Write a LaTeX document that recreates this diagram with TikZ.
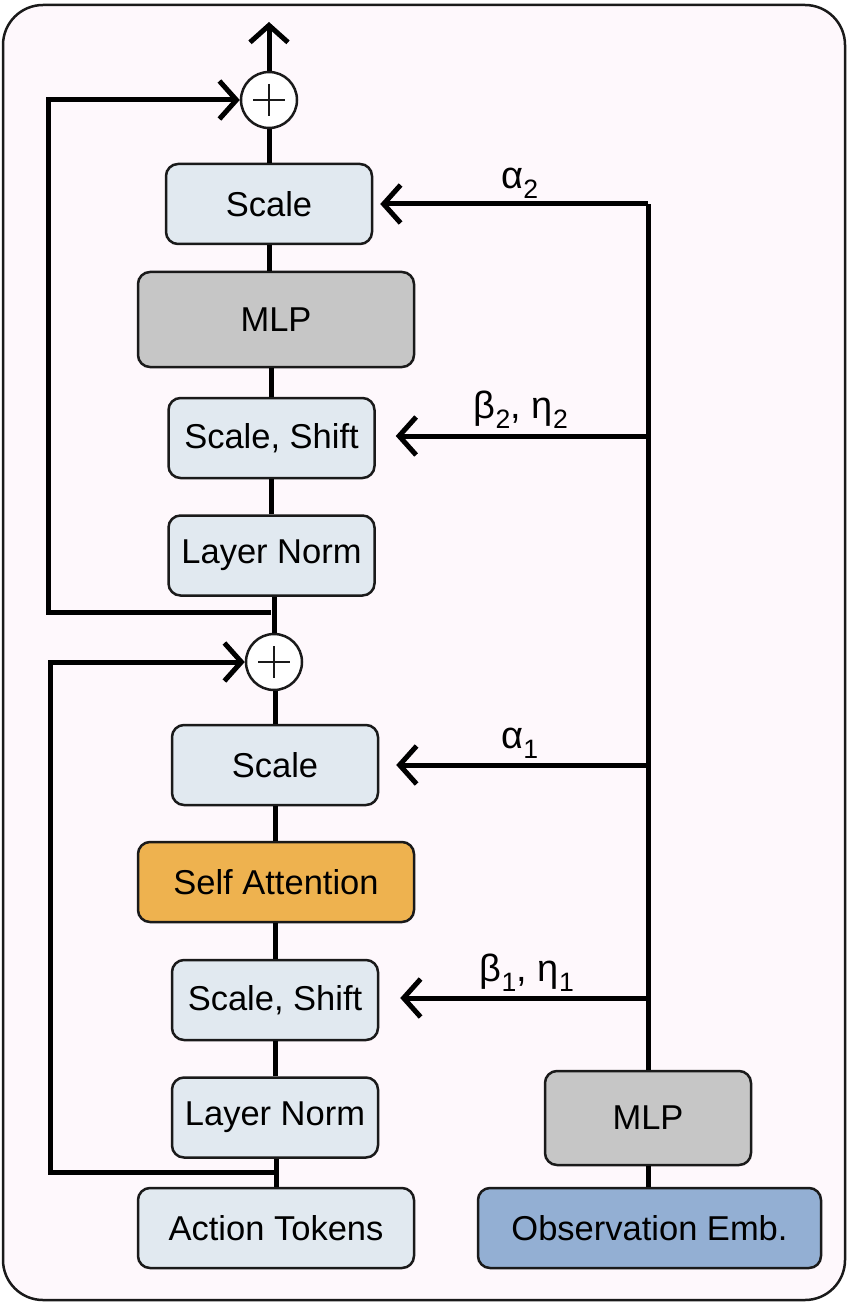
\documentclass[tikz,border=0pt]{standalone}
\usepackage{fontspec}
\setmainfont{Liberation Sans}
\usetikzlibrary{arrows.meta,calc}
\definecolor{bgpink}{HTML}{FEF8FC}
\definecolor{boxblue}{HTML}{E1E9F0}
\definecolor{boxgray}{HTML}{C6C6C6}
\definecolor{boxorange}{HTML}{EEB24F}
\definecolor{boxobs}{HTML}{93AFD3}
\definecolor{edge}{HTML}{1A1A1A}
\tikzset{
  blk/.style={draw=edge, line width=2.5pt, rounded corners=12pt, fill=boxblue,
    minimum width=206pt, minimum height=80pt, inner sep=0pt,
    font=\fontsize{34.5}{39}\selectfont},
  wideblk/.style={blk, minimum width=276pt},
  plusnode/.style={circle, draw=edge, line width=2.5pt, fill=white, minimum size=56pt, inner sep=0pt},
  conn/.style={line width=5pt, draw=black},
  arr/.style={conn, -{Straight Barb[length=17pt,width=38pt,line width=5pt]}},
  lbl/.style={font=\fontsize{38}{42}\selectfont, anchor=south}
}
\begin{document}
\begin{tikzpicture}[x=1pt,y=-1pt]
\useasboundingbox (0,0) rectangle (848,1305);
\draw[edge, line width=2.5pt, fill=bgpink, rounded corners=40pt] (3,5) rectangle (845,1300);

% left column upper
\node[plusnode] (plus2) at (269,100) {};
\node[blk] (scale2) at (269,204) {Scale};
\node[wideblk, fill=boxgray, minimum height=95pt] (mlp2) at (276,319.5) {MLP};
\node[blk] (ss2) at (271.5,438) {Scale, Shift};
\node[blk] (ln2) at (271.5,555.5) {Layer Norm};
% left column lower
\node[plusnode] (plus1) at (274,662) {};
\node[blk] (scale1) at (275,765) {Scale};
\node[wideblk, fill=boxorange] (sa) at (276,882) {Self Attention};
\node[blk] (ss1) at (275,1000) {Scale, Shift};
\node[blk] (ln1) at (275,1117.5) {Layer Norm};
\node[wideblk] (at) at (276,1228) {Action Tokens};
% right column
\node[blk, fill=boxgray, minimum height=94pt] (mlpR) at (648,1118) {MLP};
\node[blk, fill=boxobs, minimum width=343pt] (obs) at (649.5,1228) {Observation Emb.};

% plus signs
\foreach \p in {plus1,plus2}{
  \draw[edge, line width=2.5pt] ($(\p)+(-16,0)$) -- ($(\p)+(16,0)$);
  \draw[edge, line width=2.5pt] ($(\p)+(0,-16)$) -- ($(\p)+(0,16)$);
}

% coordinates
\coordinate (out) at (269,22);
\coordinate (j2) at (271,612);
\coordinate (l2b) at (48,612);
\coordinate (l2t) at (48,100);
\coordinate (j1) at (275,1172);
\coordinate (l1b) at (50,1172);
\coordinate (l1t) at (50,662);
\coordinate (r4) at (648,204);
\coordinate (r3) at (648,436);
\coordinate (r2) at (648,765);
\coordinate (r1) at (648,998);

% main vertical path
\draw[conn] (at.north) -- (at.north |- ln1.south);
\draw[conn] (ln1.north) -- (ln1.north |- ss1.south);
\draw[conn] (ss1.north) -- (ss1.north |- sa.south);
\draw[conn] (ss1.north |- sa.north) -- (ss1.north |- scale1.south);
\draw[conn] (scale1.north) -- (scale1.north |- plus1.south);
\draw[conn] (plus1.north) -- (plus1.north |- ln2.south);
\draw[conn] (ln2.north) -- (ln2.north |- ss2.south);
\draw[conn] (ss2.north) -- (ss2.north |- mlp2.south);
\draw[conn] (scale2.south |- mlp2.north) -- (scale2.south);
\draw[conn] (scale2.north) -- (plus2.south);
\draw[arr] (plus2.north) -- (out);

% residual loops
\draw[arr] (j2) -- (l2b) -- (l2t) -- (plus2.west);
\draw[arr] (j1) -- (l1b) -- (l1t) -- (plus1.west);

% right conditioning path
\draw[conn] (obs.north -| mlpR.south) -- (mlpR.south);
\draw[conn] (mlpR.north) -- (r4);
\draw[arr, shorten >=7pt] (r4) -- (scale2.east);
\draw[arr, shorten >=20pt] (r3) -- (ss2.east |- r3);
\draw[arr, shorten >=17pt] (r2) -- (scale1.east);
\draw[arr, shorten >=21pt] (r1) -- (ss1.east |- r1);

% labels
\node[lbl] (la2) at (520,202) {α\textsubscript{2}};
\node[lbl] (lb2) at (521,432) {β\textsubscript{2}, η\textsubscript{2}};
\node[lbl] (la1) at (520,762) {α\textsubscript{1}};
\node[lbl] (lb1) at (527,995) {β\textsubscript{1}, η\textsubscript{1}};
\end{tikzpicture}
\end{document}
